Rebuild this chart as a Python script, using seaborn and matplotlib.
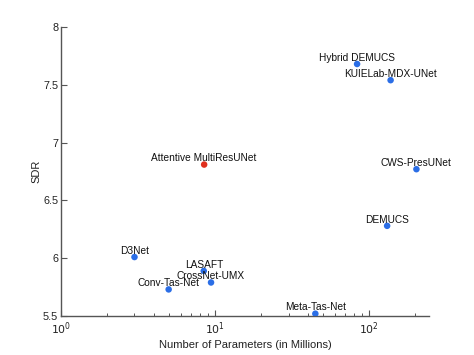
import matplotlib
matplotlib.use("Agg")
import matplotlib.pyplot as plt
import seaborn as sns
import pandas as pd
from matplotlib.ticker import LogLocator, FixedLocator

models = ["Hybrid DEMUCS", "KUIELab-MDX-UNet", "CWS-PresUNet", "DEMUCS",
          "Meta-Tas-Net", "Attentive MultiResUNet", "D3Net", "Conv-Tas-Net",
          "LASAFT", "CrossNet-UMX"]
params = [83.6, 138, 203, 131, 44.8, 8.5, 3.0, 5.0, 8.45, 9.42]
sdr = [7.68, 7.54, 6.77, 6.28, 5.52, 6.81, 6.01, 5.73, 5.89, 5.79]
group = ["other", "other", "other", "other", "other", "ours",
         "other", "other", "other", "other"]

df = pd.DataFrame({"model": models, "params": params, "sdr": sdr, "group": group})

sns.set_style("white")
plt.rcParams["font.family"] = ["Liberation Sans", "DejaVu Sans"]

fig = plt.figure(figsize=(4.74, 3.55), dpi=100)
ax = fig.add_axes([61/474, 1 - 316/355, (429-61)/474, (316-27)/355])

sns.scatterplot(data=df, x="params", y="sdr", hue="group",
                palette={"other": "#2b6ee6", "ours": "#e0301e"},
                s=22, edgecolor="none", legend=False, ax=ax, zorder=3)

ax.set_xscale("log")
ax.set_xlim(1, 245)
ax.set_ylim(5.5, 8)
ax.set_yticks([5.5, 6, 6.5, 7, 7.5, 8])
ax.set_yticklabels(["5.5", "6", "6.5", "7", "7.5", "8"])
ax.xaxis.set_major_locator(FixedLocator([1, 10, 100]))
ax.set_xticklabels([r"$10^0$", r"$10^1$", r"$10^2$"])
ax.xaxis.set_minor_locator(LogLocator(base=10, subs=range(2, 10)))

for m, x, y in zip(models, params, sdr):
    ax.annotate(m, (x, y), xytext=(0, 2.3), textcoords="offset points",
                ha="center", va="baseline", fontsize=7.3, color="#111111",
                zorder=4)

for s in ["top", "right"]:
    ax.spines[s].set_visible(False)
for s in ["left", "bottom"]:
    ax.spines[s].set_color("#555555")
    ax.spines[s].set_linewidth(1.0)

ax.tick_params(axis="both", which="major", direction="in", length=4,
               width=0.8, color="#555555", labelsize=7.8, labelcolor="#222222",
               left=True, bottom=True)
ax.tick_params(axis="x", which="minor", direction="in", length=2.5,
               width=0.7, color="#555555", bottom=True)
ax.tick_params(axis="y", pad=2)
ax.tick_params(axis="x", pad=3)

ax.set_xlabel("Number of Parameters (in Millions)", fontsize=8, color="#222222", labelpad=2)
ax.set_ylabel("SDR", fontsize=8, color="#222222", labelpad=1)

fig.savefig("out.png", dpi=100)
